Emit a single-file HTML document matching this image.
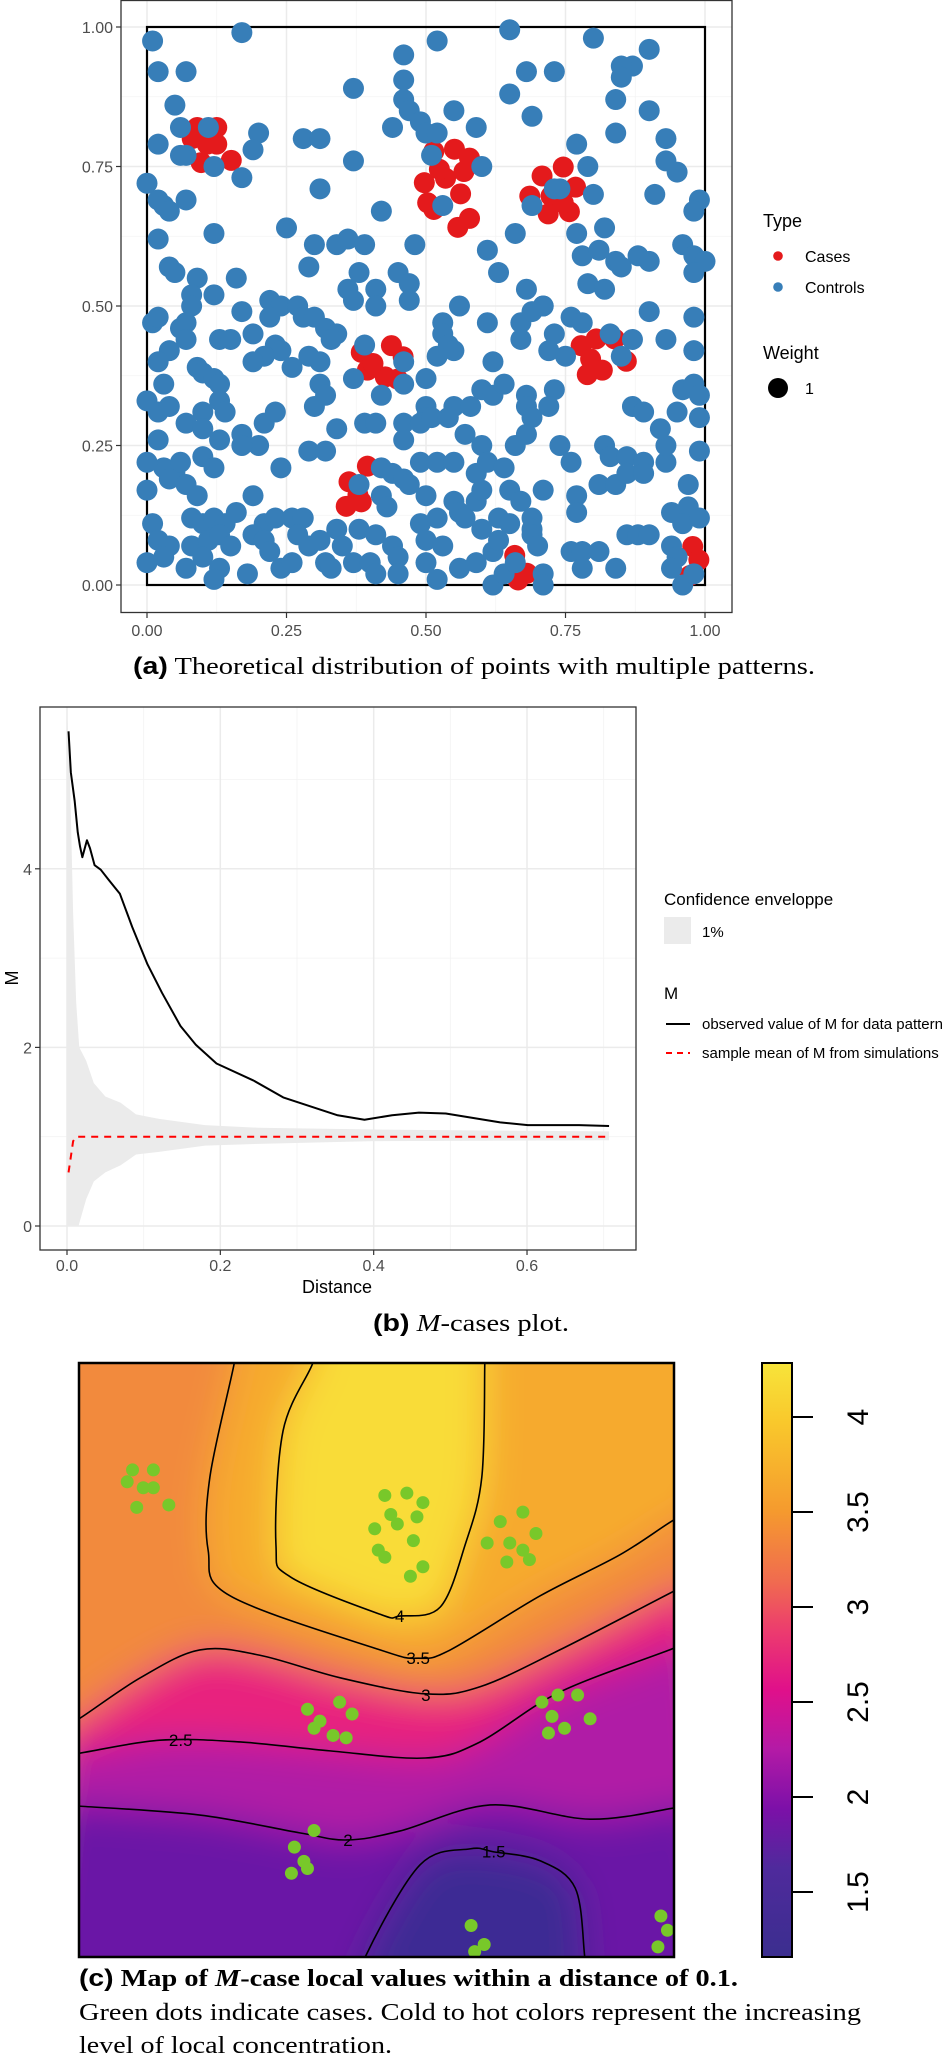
<!DOCTYPE html>
<html><head><meta charset="utf-8">
<style>
html,body{margin:0;padding:0;background:#fff;}
svg{display:block;}
text{font-family:"Liberation Sans",sans-serif;}
</style></head>
<body>
<svg id="fig" width="944" height="2057" viewBox="0 0 944 2057" xmlns="http://www.w3.org/2000/svg">
<defs>
<linearGradient id="cbar" x1="0" y1="0" x2="0" y2="1">
<stop offset="0" stop-color="#f7e43a"/><stop offset="0.1" stop-color="#f9c82c"/>
<stop offset="0.25" stop-color="#f59a2e"/><stop offset="0.37" stop-color="#f06a50"/>
<stop offset="0.45" stop-color="#ec3c6e"/><stop offset="0.55" stop-color="#e0108a"/>
<stop offset="0.65" stop-color="#b41aa6"/><stop offset="0.75" stop-color="#7c10a8"/>
<stop offset="0.85" stop-color="#4f2a9c"/><stop offset="1" stop-color="#3b2e8f"/>
</linearGradient>
<clipPath id="mapclip"><rect x="79" y="1363" width="595" height="594"/></clipPath>
<filter id="blur" x="-20%" y="-20%" width="140%" height="140%"><feGaussianBlur stdDeviation="18"/></filter>
</defs>
<g id="pa"></g>
<g id="pb"></g>
<g id="pc"></g>
<g id="caps"></g>
</svg>
<script>
// ---------- Panel (a) data ----------
const casesX=[0.09,0.125,0.108,0.125,0.097,0.151,0.081,
0.514,0.551,0.578,0.497,0.535,0.562,0.503,0.514,0.557,0.578,0.524,0.568,
0.708,0.746,0.686,0.724,0.768,0.719,0.757,0.746,
0.384,0.438,0.459,0.395,0.427,0.449,0.405,
0.778,0.805,0.838,0.795,0.816,0.789,0.859,
0.395,0.362,0.378,0.357,0.384,
0.659,0.665,0.681,
0.978,0.989,0.973];
const casesY=[0.82,0.82,0.79,0.79,0.757,0.761,0.80,
0.777,0.781,0.765,0.721,0.729,0.701,0.685,0.673,0.641,0.657,0.745,0.741,
0.733,0.749,0.697,0.697,0.713,0.665,0.669,0.685,
0.417,0.429,0.409,0.385,0.373,0.369,0.397,
0.429,0.441,0.441,0.405,0.385,0.377,0.401,
0.213,0.185,0.161,0.141,0.149,
0.053,0.009,0.021,
0.069,0.045,0.017];
const controls=[[0.01,0.975],[0.02,0.92],[0.07,0.92],[0.17,0.99],[0.52,0.975],[0.46,0.95],[0.46,0.905],[0.65,0.995],[0.68,0.92],[0.73,0.92],[0.8,0.98],[0.9,0.96],[0.87,0.93],[0.85,0.93],[0.85,0.91],
[0.05,0.86],[0.06,0.82],[0.37,0.89],[0.46,0.87],[0.47,0.85],[0.44,0.82],[0.49,0.83],[0.5,0.81],[0.52,0.81],[0.55,0.85],[0.59,0.82],[0.65,0.88],[0.69,0.84],[0.84,0.87],[0.9,0.85],[0.84,0.81],[0.11,0.82],[0.2,0.81],[0.19,0.78],
[0.02,0.79],[0.07,0.77],[0.06,0.77],[0.12,0.75],[0.17,0.73],[0.28,0.8],[0.31,0.8],[0.37,0.76],[0.31,0.71],[0.51,0.77],[0.6,0.75],[0.77,0.79],[0.79,0.75],[0.93,0.8],[0.93,0.76],[0.95,0.74],[0.91,0.7],[0.0,0.72],[0.8,0.7],[0.53,0.68],[0.74,0.71],[0.73,0.71],
[0.02,0.69],[0.03,0.68],[0.04,0.67],[0.07,0.69],[0.12,0.63],[0.02,0.62],[0.25,0.64],[0.42,0.67],[0.69,0.68],[0.66,0.63],[0.77,0.63],[0.82,0.64],[0.99,0.69],[0.98,0.67],[0.34,0.61],[0.36,0.62],[0.39,0.61],[0.3,0.61],[0.48,0.61],[0.61,0.6],[0.96,0.61],
[0.04,0.57],[0.05,0.56],[0.09,0.55],[0.16,0.55],[0.29,0.57],[0.38,0.56],[0.45,0.56],[0.47,0.54],[0.36,0.53],[0.41,0.53],[0.37,0.51],[0.41,0.5],[0.47,0.51],[0.63,0.56],[0.78,0.59],[0.81,0.6],[0.84,0.58],[0.85,0.57],[0.88,0.59],[0.9,0.58],[0.98,0.59],[1.0,0.58],[0.98,0.56],[0.79,0.54],[0.82,0.53],[0.68,0.53],[0.71,0.5],[0.56,0.5],[0.12,0.52],[0.08,0.52],[0.17,0.49],
[0.01,0.47],[0.02,0.48],[0.06,0.46],[0.07,0.47],[0.07,0.44],[0.04,0.42],[0.08,0.5],[0.22,0.51],[0.24,0.5],[0.27,0.5],[0.28,0.48],[0.22,0.48],[0.3,0.48],[0.32,0.46],[0.34,0.45],[0.19,0.45],[0.13,0.44],[0.15,0.44],[0.23,0.43],[0.24,0.42],[0.21,0.41],[0.19,0.4],[0.26,0.39],[0.29,0.41],[0.31,0.4],[0.33,0.44],[0.39,0.43],[0.53,0.47],[0.53,0.45],[0.54,0.43],[0.52,0.41],[0.55,0.42],[0.61,0.47],[0.67,0.47],[0.69,0.49],[0.71,0.5],[0.67,0.44],[0.73,0.45],[0.76,0.48],[0.78,0.47],[0.72,0.42],[0.75,0.41],[0.83,0.45],[0.85,0.41],[0.87,0.44],[0.9,0.49],[0.93,0.44],[0.98,0.48],[0.98,0.42],[0.62,0.4],[0.02,0.4],[0.09,0.39],[0.46,0.4],
[0.1,0.38],[0.12,0.37],[0.13,0.36],[0.03,0.36],[0.0,0.33],[0.02,0.31],[0.04,0.32],[0.13,0.33],[0.14,0.31],[0.1,0.31],[0.37,0.37],[0.31,0.36],[0.32,0.34],[0.42,0.34],[0.46,0.36],[0.5,0.37],[0.6,0.35],[0.62,0.34],[0.64,0.36],[0.68,0.34],[0.68,0.32],[0.73,0.35],[0.72,0.32],[0.87,0.32],[0.89,0.31],[0.95,0.31],[0.96,0.35],[0.98,0.36],[0.99,0.34],[0.99,0.3],[0.3,0.32],[0.5,0.32],[0.55,0.32],[0.58,0.32],[0.5,0.3],[0.69,0.3],
[0.07,0.29],[0.1,0.28],[0.02,0.26],[0.17,0.27],[0.2,0.25],[0.17,0.25],[0.21,0.29],[0.23,0.31],[0.13,0.26],[0.1,0.23],[0.12,0.21],[0.03,0.21],[0.05,0.2],[0.06,0.22],[0.0,0.22],[0.24,0.21],[0.29,0.24],[0.32,0.24],[0.34,0.28],[0.39,0.29],[0.41,0.29],[0.46,0.29],[0.46,0.26],[0.49,0.29],[0.51,0.3],[0.54,0.3],[0.57,0.27],[0.6,0.25],[0.61,0.22],[0.64,0.21],[0.66,0.25],[0.68,0.27],[0.74,0.25],[0.76,0.22],[0.82,0.25],[0.83,0.23],[0.86,0.23],[0.89,0.22],[0.93,0.22],[0.93,0.25],[0.92,0.28],[0.99,0.24],[0.49,0.22],[0.52,0.22],[0.55,0.22],[0.42,0.21],
[0.0,0.17],[0.04,0.19],[0.07,0.18],[0.09,0.16],[0.19,0.16],[0.42,0.16],[0.43,0.14],[0.44,0.2],[0.46,0.19],[0.47,0.18],[0.5,0.16],[0.55,0.15],[0.56,0.13],[0.59,0.15],[0.6,0.17],[0.59,0.2],[0.65,0.17],[0.67,0.15],[0.69,0.12],[0.71,0.17],[0.77,0.16],[0.77,0.13],[0.81,0.18],[0.84,0.18],[0.86,0.2],[0.89,0.2],[0.97,0.18],[0.97,0.14],[0.94,0.13],[0.96,0.11],[0.99,0.12],[0.01,0.11],[0.08,0.12],[0.1,0.11],[0.12,0.12],[0.14,0.11],[0.16,0.13],[0.21,0.11],[0.23,0.12],[0.26,0.12],[0.28,0.12],[0.49,0.11],[0.52,0.12],[0.57,0.12],[0.63,0.12],[0.65,0.11],[0.69,0.1],[0.38,0.18],
[0.02,0.08],[0.04,0.07],[0.08,0.07],[0.11,0.08],[0.13,0.09],[0.15,0.07],[0.19,0.09],[0.21,0.08],[0.22,0.06],[0.27,0.09],[0.29,0.07],[0.31,0.08],[0.34,0.1],[0.35,0.07],[0.38,0.1],[0.41,0.09],[0.44,0.07],[0.5,0.08],[0.53,0.07],[0.6,0.1],[0.62,0.06],[0.63,0.08],[0.69,0.09],[0.7,0.07],[0.76,0.06],[0.78,0.06],[0.81,0.06],[0.86,0.09],[0.88,0.09],[0.9,0.09],[0.94,0.07],[0.95,0.05],[0.0,0.04],[0.03,0.05],[0.07,0.03],[0.1,0.05],[0.13,0.03],[0.12,0.01],[0.18,0.02],[0.24,0.03],[0.26,0.04],[0.32,0.04],[0.33,0.03],[0.37,0.04],[0.4,0.04],[0.41,0.02],[0.45,0.05],[0.45,0.02],[0.5,0.04],[0.52,0.01],[0.56,0.03],[0.59,0.04],[0.62,0.0],[0.64,0.02],[0.66,0.04],[0.71,0.02],[0.71,0.0],[0.78,0.03],[0.84,0.03],[0.94,0.03],[0.96,0.0],[0.98,0.02]];
const ticksA=[0,0.25,0.5,0.75,1];
const tickLabelsA=["0.00","0.25","0.50","0.75","1.00"];

// ---------- Panel (b) data ----------
const obsD=[0.002,0.005,0.010,0.014,0.017,0.020,0.026,0.030,0.036,0.044,0.054,0.069,0.085,0.105,0.124,0.148,0.168,0.195,0.243,0.282,0.353,0.388,0.424,0.459,0.494,0.565,0.601,0.668,0.707];
const obsM=[5.54,5.08,4.76,4.41,4.25,4.13,4.32,4.23,4.04,3.99,3.88,3.72,3.35,2.93,2.61,2.24,2.03,1.82,1.63,1.44,1.24,1.19,1.24,1.27,1.26,1.16,1.13,1.13,1.12];
const envUpD=[0.0,0.004,0.008,0.012,0.016,0.025,0.035,0.05,0.07,0.09,0.12,0.18,0.25,0.4,0.55,0.707];
const envUpM=[5.8,5.0,3.5,2.5,2.0,1.85,1.6,1.45,1.38,1.25,1.2,1.13,1.1,1.08,1.07,1.06];
const envLoD=[0.0,0.015,0.025,0.035,0.05,0.07,0.09,0.12,0.18,0.25,0.4,0.707];
const envLoM=[0,0,0.3,0.5,0.6,0.68,0.8,0.83,0.9,0.92,0.95,0.96];
const meanD=[0.002,0.008,0.012,0.707];
const meanM=[0.6,0.95,1.0,1.0];
const ticksBx=[0,0.2,0.4,0.6];
const tickLabelsBx=["0.0","0.2","0.4","0.6"];
const ticksBy=[0,2,4];
const tickLabelsBy=["0","2","4"];

// ---------- Panel (c) data (map units 0..1) ----------
const c4=[[.397,1.039],[.393,1.0],[.343,.886],[.331,.694],[.355,.640],[.506,.577],[.539,.574],[.607,.589],[.649,.694],[.677,.808],[.682,1.0],[.682,1.039]];
const c35=[[.264,1.039],[.261,1.0],[.220,.808],[.217,.685],[.254,.608],[.506,.517],[.570,.503],[.624,.517],[.775,.608],[.909,.677],[1.0,.736],[1.044,.756]];
const c3=[[-.04,.380],[0,.401],[.103,.470],[.203,.517],[.304,.508],[.439,.470],[.582,.443],[.674,.455],[.808,.517],[1.0,.616],[1.044,.638]];
const c25=[[-.04,.338],[0,.343],[.136,.365],[.271,.362],[.422,.347],[.582,.335],[.674,.362],[.808,.446],[1.0,.520],[1.044,.542]];
const c2=[[-.04,.256],[0,.254],[.203,.239],[.371,.209],[.450,.197],[.539,.212],[.691,.256],[.859,.232],[1.0,.251],[1.044,.261]];
const c15=[[.472,-.056],[.481,0],[.573,.155],[.657,.182],[.697,.177],[.775,.162],[.834,.116],[.850,0],[.855,-.056]];
const contourLabels=["4","3.5","3","2.5","2","1.5"];
const contourLabelPos=[[.539,.574],[.570,.503],[.583,.441],[.171,.365],[.452,.197],[.697,.178]];
const cbarTicks=[4,3.5,3,2.5,2,1.5];
const cbarTickLabels=["4","3.5","3","2.5","2","1.5"];

const NS="http://www.w3.org/2000/svg";
function mk(tag,attrs,parent){const e=document.createElementNS(NS,tag);for(const k in attrs)e.setAttribute(k,attrs[k]);parent.appendChild(e);return e;}
function smooth(pts){let d="M"+pts[0][0]+","+pts[0][1];for(let i=0;i<pts.length-1;i++){const p0=pts[Math.max(i-1,0)],p1=pts[i],p2=pts[i+1],p3=pts[Math.min(i+2,pts.length-1)];
const c1x=p1[0]+(p2[0]-p0[0])/6,c1y=p1[1]+(p2[1]-p0[1])/6,c2x=p2[0]-(p3[0]-p1[0])/6,c2y=p2[1]-(p3[1]-p1[1])/6;d+=" C"+c1x+","+c1y+" "+c2x+","+c2y+" "+p2[0]+","+p2[1];}return d;}

// ===== Panel A =====
const pa=document.getElementById('pa');
const xa=v=>147+v*558, ya=v=>585-v*558;
let r=mk('rect',{x:121,y:0.5,width:611,height:612,fill:'#fff',stroke:'none'},pa);


[0.125,0.375,0.625,0.875].forEach(v=>{
 let g=mk('line',{x1:121,x2:732,y1:ya(v),y2:ya(v),stroke:'#f3f3f3','stroke-width':0.8},pa);
 
 
 g=mk('line',{y1:0,y2:613,x1:xa(v),x2:xa(v),stroke:'#f3f3f3','stroke-width':0.8},pa);
 
 
});
ticksA.forEach((v,i)=>{
 let g=mk('line',{x1:121,x2:732,y1:ya(v),y2:ya(v),stroke:'#ebebeb','stroke-width':1.5},pa);
 
 
 g=mk('line',{y1:0,y2:613,x1:xa(v),x2:xa(v),stroke:'#ebebeb','stroke-width':1.5},pa);
 
 
 let t=mk('line',{x1:116,x2:121,y1:ya(v),y2:ya(v),stroke:'#333','stroke-width':1.2},pa);
 
 
 t=mk('line',{x1:xa(v),x2:xa(v),y1:613,y2:618,stroke:'#333','stroke-width':1.2},pa);
 
 
 let l=mk('text',{x:113,y:ya(v)+6,'text-anchor':'end','font-size':16,fill:'#4d4d4d'},pa);
 l.textContent=tickLabelsA[i];
 
 
 l=mk('text',{x:xa(v),y:636,'text-anchor':'middle','font-size':16,fill:'#4d4d4d'},pa);
 l.textContent=tickLabelsA[i];
 
 
});
r=mk('rect',{x:xa(0),y:ya(1),width:xa(1)-xa(0),height:ya(0)-ya(1),fill:'none',stroke:'#000','stroke-width':2.2},pa);


casesX.forEach((x,i)=>{
 const c=mk('circle',{cx:xa(x),cy:ya(casesY[i]),r:10.5,fill:'#e41a1c'},pa);
 
 
});
controls.forEach(p=>{
 const c=mk('circle',{cx:xa(p[0]),cy:ya(p[1]),r:10.5,fill:'#377eb8'},pa);
 
 
});
r=mk('rect',{x:121,y:0.5,width:611,height:612,fill:'none',stroke:'#333','stroke-width':1.3},pa);


// legend a
const la=mk('g',{},pa);


let tx=mk('text',{x:763,y:227,'font-size':18,fill:'#000'},la);tx.textContent='Type';


let d=mk('circle',{cx:778,cy:256,r:4.8,fill:'#e41a1c'},la);


tx=mk('text',{x:805,y:262,'font-size':16},la);tx.textContent='Cases';


d=mk('circle',{cx:778,cy:287,r:4.8,fill:'#377eb8'},la);


tx=mk('text',{x:805,y:293,'font-size':16},la);tx.textContent='Controls';


tx=mk('text',{x:763,y:359,'font-size':18},la);tx.textContent='Weight';


d=mk('circle',{cx:778,cy:388,r:10,fill:'#000'},la);


tx=mk('text',{x:805,y:394,'font-size':16},la);tx.textContent='1';



// ===== Panel B =====
const pb=document.getElementById('pb');
const xb=v=>67+v*766.7, yb=v=>1226-v*89.3;
const L=40,R=636,T=707,B=1250;
r=mk('rect',{x:L,y:T,width:R-L,height:B-T,fill:'#fff'},pb);


[1,3,5].forEach(v=>{
 const g=mk('line',{x1:L,x2:R,y1:yb(v),y2:yb(v),stroke:'#f3f3f3','stroke-width':0.8},pb);
 
 
});
[0.1,0.3,0.5,0.7].forEach(v=>{
 const g=mk('line',{y1:T,y2:B,x1:xb(v),x2:xb(v),stroke:'#f3f3f3','stroke-width':0.8},pb);
 
 
});
ticksBy.forEach((v,i)=>{
 const g=mk('line',{x1:L,x2:R,y1:yb(v),y2:yb(v),stroke:'#ebebeb','stroke-width':1.5},pb);
 
 
 const t=mk('line',{x1:35,x2:L,y1:yb(v),y2:yb(v),stroke:'#333','stroke-width':1.2},pb);
 
 
 const l=mk('text',{x:32,y:yb(v)+6,'text-anchor':'end','font-size':16,fill:'#4d4d4d'},pb);
 l.textContent=tickLabelsBy[i];
 
 
});
ticksBx.forEach((v,i)=>{
 const g=mk('line',{y1:T,y2:B,x1:xb(v),x2:xb(v),stroke:'#ebebeb','stroke-width':1.5},pb);
 
 
 const t=mk('line',{x1:xb(v),x2:xb(v),y1:B,y2:B+5,stroke:'#333','stroke-width':1.2},pb);
 
 
 const l=mk('text',{x:xb(v),y:1271,'text-anchor':'middle','font-size':16,fill:'#4d4d4d'},pb);
 l.textContent=tickLabelsBx[i];
 
 
});
let envPts=envUpD.map((x,i)=>xb(x)+","+yb(envUpM[i]));
for(let i=envLoD.length-1;i>=0;i--)envPts.push(xb(envLoD[i])+","+yb(envLoM[i]));
let env=mk('polygon',{points:envPts.join(" "),fill:'#ebebeb'},pb);


let ml=mk('polyline',{points:meanD.map((x,i)=>xb(x)+","+yb(meanM[i])).join(" "),fill:'none',stroke:'#ff0000','stroke-width':2,'stroke-dasharray':'7 6'},pb);


let ol=mk('polyline',{points:obsD.map((x,i)=>xb(x)+","+yb(obsM[i])).join(" "),fill:'none',stroke:'#000','stroke-width':2,'stroke-linejoin':'round'},pb);


r=mk('rect',{x:L,y:T,width:R-L,height:B-T,fill:'none',stroke:'#333','stroke-width':1.3},pb);


tx=mk('text',{x:337,y:1293,'text-anchor':'middle','font-size':18},pb);tx.textContent='Distance';


tx=mk('text',{x:0,y:0,'text-anchor':'middle','font-size':18,transform:'translate(18,978) rotate(-90)'},pb);tx.textContent='M';


const lb=mk('g',{},pb);


tx=mk('text',{x:664,y:905,'font-size':17},lb);tx.textContent='Confidence enveloppe';


d=mk('rect',{x:664,y:917,width:27,height:27,fill:'#ebebeb'},lb);


tx=mk('text',{x:702,y:937,'font-size':15},lb);tx.textContent='1%';


tx=mk('text',{x:664,y:999,'font-size':17},lb);tx.textContent='M';


d=mk('line',{x1:666,x2:690,y1:1024,y2:1024,stroke:'#000','stroke-width':2},lb);


tx=mk('text',{x:702,y:1029,'font-size':15},lb);tx.textContent='observed value of M for data pattern';


d=mk('line',{x1:666,x2:690,y1:1053,y2:1053,stroke:'#ff0000','stroke-width':2,'stroke-dasharray':'6 5'},lb);


tx=mk('text',{x:702,y:1058,'font-size':15},lb);tx.textContent='sample mean of M from simulations';



// ===== Panel C =====
const pc=document.getElementById('pc');
const xm=v=>79+v*595, ym=v=>1957-v*594;
const P=a=>a.map(p=>[xm(p[0]),ym(p[1])]);
const clipG=mk('g',{'clip-path':'url(#mapclip)'},pc);


const blurG=mk('g',{filter:'url(#blur)'},clipG);
mk('rect',{x:30,y:1310,width:700,height:700,fill:'#f28a3e'},blurG);
const regions=[
 [smooth(P(c35))+" L730,1310 L236,1310 Z",'#f6aa2e'],
 [smooth(P(c4))+" L485,1310 L315,1310 Z",'#f9dc38'],
 [smooth(P(c3))+" L730,2010 L30,2010 Z",'#e8207e'],
 [smooth(P(c25))+" L730,2010 L30,2010 Z",'#b01ca6'],
 [smooth(P(c2))+" L730,2010 L30,2010 Z",'#6a16a6'],
 [smooth(P(c15))+" Z",'#3e2c94']];
regions.forEach(rg=>{
 const p=mk('path',{d:rg[0],fill:rg[1]},blurG);
 
 
});
[c4,c35,c3,c25,c2,c15].forEach(c=>{
 const p=mk('path',{d:smooth(P(c)),fill:'none',stroke:'#000','stroke-width':1.6},clipG);
 
 
});
contourLabels.forEach((s,i)=>{
 const t=mk('text',{x:xm(contourLabelPos[i][0]),y:ym(contourLabelPos[i][1])+6,'text-anchor':'middle','font-size':17,fill:'#000'},clipG);
 t.textContent=s;
 
 
});
casesX.forEach((x,i)=>{
 const c=mk('circle',{cx:xm(x),cy:ym(casesY[i]),r:6.5,fill:'#78c82a'},clipG);
 
 
});
r=mk('rect',{x:79,y:1363,width:595,height:594,fill:'none',stroke:'#000','stroke-width':2.5},pc);


const yc=v=>1417+(4-v)*190;
r=mk('rect',{x:762,y:1363,width:30,height:594,fill:'url(#cbar)',stroke:'#000','stroke-width':2},pc);


cbarTicks.forEach((v,i)=>{
 const t=mk('line',{x1:792,x2:813,y1:yc(v),y2:yc(v),stroke:'#000','stroke-width':2},pc);
 
 
 const l=mk('text',{x:0,y:0,'text-anchor':'middle','font-size':30,transform:'translate(868,'+yc(v)+') rotate(-90)'},pc);
 l.textContent=cbarTickLabels[i];
 
 
});

// ===== Captions =====
const caps=document.getElementById('caps');
const SANS='font-family:"Liberation Sans",sans-serif';
const SERIF='font-family:"Liberation Serif",serif';
let c=mk('text',{x:133,y:674,'font-size':24,textLength:682,lengthAdjust:'spacingAndGlyphs',style:SERIF},caps);
c.innerHTML='<tspan font-weight="bold" style=\''+SANS+'\'>(a)</tspan><tspan style=\''+SERIF+'\'> Theoretical distribution of points with multiple patterns.</tspan>';


c=mk('text',{x:373,y:1331,'font-size':24,textLength:196,lengthAdjust:'spacingAndGlyphs',style:SERIF},caps);
c.innerHTML='<tspan font-weight="bold" style=\''+SANS+'\'>(b)</tspan><tspan style=\''+SERIF+'\'> </tspan><tspan font-style="italic" style=\''+SERIF+'\'>M</tspan><tspan style=\''+SERIF+'\'>-cases plot.</tspan>';


c=mk('text',{x:79,y:1986,'font-size':24,textLength:659,lengthAdjust:'spacingAndGlyphs',style:SERIF},caps);
c.innerHTML='<tspan font-weight="bold" style=\''+SANS+'\'>(c)</tspan><tspan font-weight="bold" style=\''+SERIF+'\'> Map of </tspan><tspan font-weight="bold" font-style="italic" style=\''+SERIF+'\'>M</tspan><tspan font-weight="bold" style=\''+SERIF+'\'>-case local values within a distance of 0.1.</tspan>';


c=mk('text',{x:79,y:2020,'font-size':24,textLength:782,lengthAdjust:'spacingAndGlyphs',style:SERIF},caps);
c.textContent='Green dots indicate cases. Cold to hot colors represent the increasing';


c=mk('text',{x:79,y:2053,'font-size':24,textLength:313,lengthAdjust:'spacingAndGlyphs',style:SERIF},caps);
c.textContent='level of local concentration.';


</script>
</body></html>
